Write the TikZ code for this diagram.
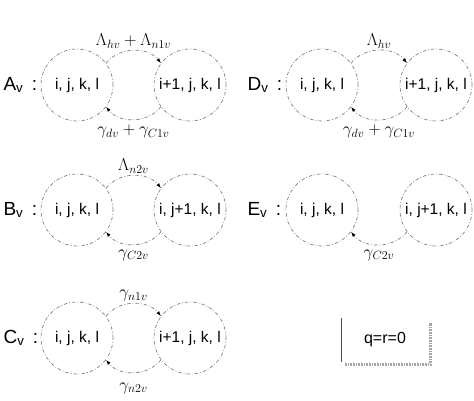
\documentclass[tikz,border=0pt]{standalone}
\usepackage[no-math]{fontspec}
\setmainfont{Liberation Sans}
\usepackage{amsmath}
\usetikzlibrary{arrows.meta}

\begin{document}
\begin{tikzpicture}[
    x                   = 1pt,
    y                   = 1pt,
    state/.style        = {circle, draw=gray, line width=0.7pt,
                           dash pattern=on 3.5pt off 2pt on 0.8pt off 2pt,
                           minimum size=72pt, inner sep=0pt},
    flow/.style         = {draw=gray, line width=0.7pt,
                           dash pattern=on 3.5pt off 2pt on 0.8pt off 2pt,
                           -{Latex[length=5pt,width=3.5pt,color=black]}},
    rowname/.style      = {anchor=west, font=\fontsize{19}{22}\selectfont},
    rate/.style         = {font=\fontsize{17}{20}\selectfont, inner sep=1pt},
    every label/.style  = {font=\fontsize{15.5}{18}\selectfont}
  ]
\useasboundingbox (0,0) rectangle (474,401);

% A_v
\node[rowname] (An) at (0,316) {A\textsubscript{v}\, :};
\node[state, label=center:{i, j, k, l}]   (A1) at (77,316)  {};
\node[state, label=center:{i+1, j, k, l}] (A2) at (190,316) {};
\draw[flow] (A1.37) to[bend left=51] node[rate, above=1pt] {$\Lambda_{hv}+\Lambda_{n1v}$} (A2.143);
\draw[flow] (A2.-143) to[bend left=51] node[rate, below=4pt] {$\gamma_{dv}+\gamma_{C1v}$} (A1.-37);

% B_v
\node[rowname] (Bn) at (0,191) {B\textsubscript{v}\, :};
\node[state, label=center:{i, j, k, l}]   (B1) at (77,191)  {};
\node[state, label=center:{i, j+1, k, l}] (B2) at (190,191) {};
\draw[flow] (B1.37) to[bend left=51] node[rate, above=1pt] {$\Lambda_{n2v}$} (B2.143);
\draw[flow] (B2.-143) to[bend left=51] node[rate, below=4pt] {$\gamma_{C2v}$} (B1.-37);

% C_v
\node[rowname] (Cn) at (0,63) {C\textsubscript{v}\, :};
\node[state, label=center:{i, j, k, l}]   (C1) at (77,63)  {};
\node[state, label=center:{i+1, j, k, l}] (C2) at (190,63) {};
\draw[flow] (C1.37) to[bend left=51] node[rate, above=1pt] {$\gamma_{n1v}$} (C2.143);
\draw[flow] (C2.-143) to[bend left=51] node[rate, below=9pt] {$\gamma_{n2v}$} (C1.-37);

% D_v
\node[rowname] (Dn) at (244,316) {D\textsubscript{v}\, :};
\node[state, label=center:{i, j, k, l}]   (D1) at (322,316) {};
\node[state, label=center:{i+1, j, k, l}] (D2) at (436,316) {};
\draw[flow] (D1.37) to[bend left=51] node[rate, above=1pt] {$\Lambda_{hv}$} (D2.143);
\draw[flow] (D2.-143) to[bend left=51] node[rate, below=4pt] {$\gamma_{dv}+\gamma_{C1v}$} (D1.-37);

% E_v
\node[rowname] (En) at (244,191) {E\textsubscript{v}\, :};
\node[state, label=center:{i, j, k, l}]   (E1) at (322,191) {};
\node[state, label=center:{i, j+1, k, l}] (E2) at (436,191) {};
\draw[flow] (E2.-143) to[bend left=51] node[rate, below=4pt] {$\gamma_{C2v}$} (E1.-37);

% q=r=0
\node[font=\fontsize{16}{19}\selectfont, minimum width=86pt, minimum height=44pt] (qr) at (385,61) {q=r=0};
\draw[gray!60!black, line width=1pt] (qr.north west) -- (qr.south west);
\draw[gray!70, line width=3pt, dash pattern=on 1pt off 0.6pt]
  ([xshift=3pt,yshift=-2pt]qr.south west) -- ([xshift=2pt,yshift=-2pt]qr.south east)
  -- ([xshift=2pt,yshift=-5pt]qr.north east);
\end{tikzpicture}
\end{document}
